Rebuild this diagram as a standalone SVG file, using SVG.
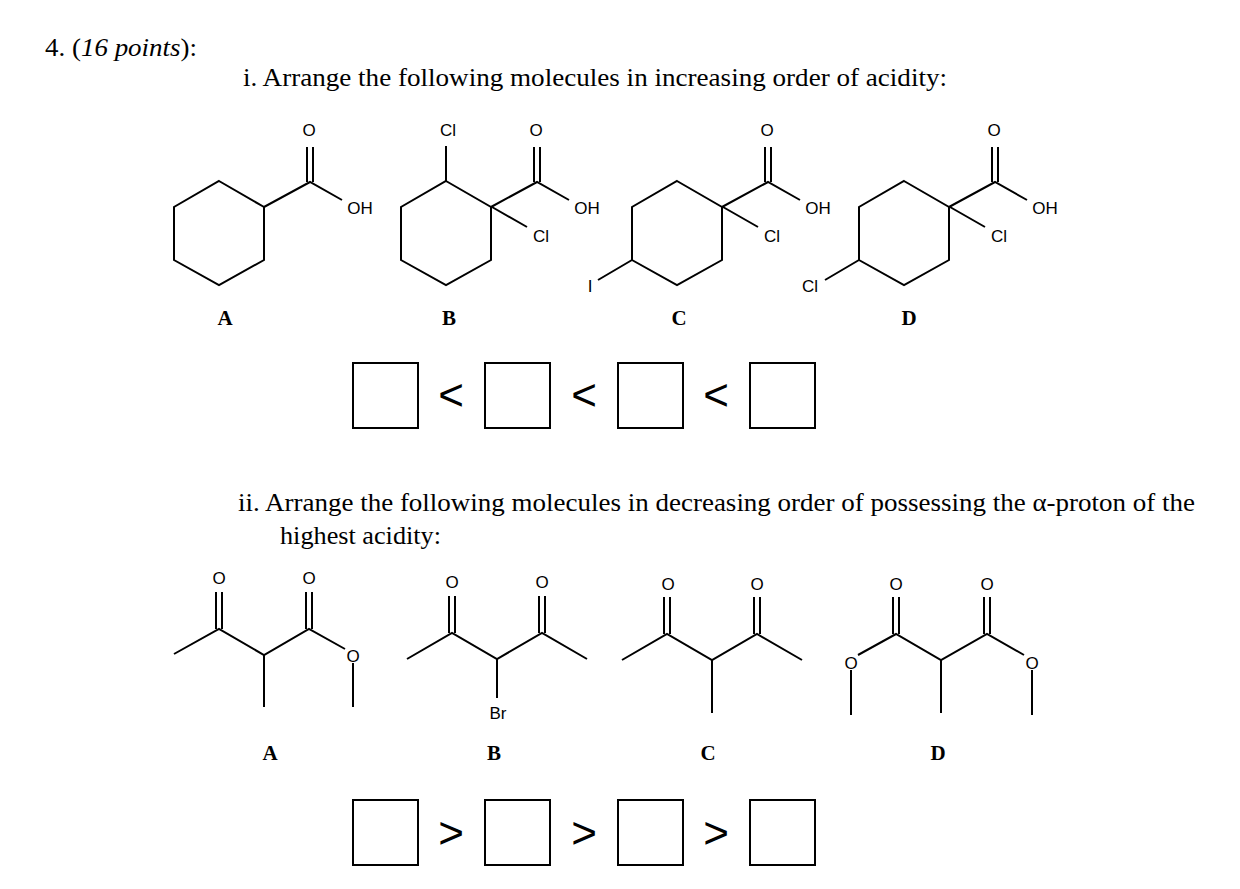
<svg xmlns="http://www.w3.org/2000/svg" width="1240" height="889" viewBox="0 0 1240 889">
<style>
.t{font-family:"Liberation Serif",serif;font-size:26px;fill:#000}
.lb{font-family:"Liberation Serif",serif;font-size:21px;font-weight:bold;fill:#000;text-anchor:middle}
.at{font-family:"Liberation Sans",sans-serif;font-size:17px;fill:#000;text-anchor:middle}
.b{stroke:#000;stroke-width:2;fill:none;stroke-linejoin:miter}
.box{stroke:#000;stroke-width:2;fill:#fff}
.op{font-family:"Liberation Sans",sans-serif;font-size:44px;fill:#000;text-anchor:middle}
</style>
<rect width="1240" height="889" fill="#fff"/>
<text class="t" x="45" y="56" textLength="152" lengthAdjust="spacingAndGlyphs">4. (<tspan font-style="italic">16 points</tspan>):</text>
<text class="t" x="243" y="86" textLength="704" lengthAdjust="spacingAndGlyphs">i.  Arrange the following molecules in increasing order of acidity:</text>
<text class="t" x="238" y="511" textLength="957" lengthAdjust="spacingAndGlyphs">ii.  Arrange the following molecules in decreasing order of possessing the α-proton of the</text>
<text class="t" x="280" y="544" textLength="161" lengthAdjust="spacingAndGlyphs">highest acidity:</text>

<defs>
<g id="acid">
<path class="b" d="M0,0 L45,26 L45,79 L0,104 L-45,79 L-45,26 Z"/>
<path class="b" d="M45,26 L91,1 L123,19"/>
<path class="b" d="M88,1 V-34 M94,1 V-34"/>
<text class="at" x="90" y="-45">O</text>
<text class="at" x="141" y="33">OH</text>
</g>
</defs>
<g id="mol-i-A"><use href="#acid" x="219" y="181"/><text class="lb" x="225" y="325">A</text></g>
<g id="mol-i-B"><use href="#acid" x="446" y="181"/>
<path class="b" d="M446,181 V146 M492,207 L527,227"/>
<text class="at" x="448" y="136">Cl</text><text class="at" x="541" y="242">Cl</text>
<text class="lb" x="449" y="325">B</text></g>
<g id="mol-i-C"><use href="#acid" x="677" y="181"/>
<path class="b" d="M723,207 L758,227 M632,260 L598,280"/>
<text class="at" x="772" y="242">Cl</text><text class="at" x="590" y="292">I</text>
<text class="lb" x="679" y="325">C</text></g>
<g id="mol-i-D"><use href="#acid" x="904" y="181"/>
<path class="b" d="M950,207 L985,227 M859,260 L825,280"/>
<text class="at" x="999" y="242">Cl</text><text class="at" x="810" y="292">Cl</text>
<text class="lb" x="909" y="325">D</text></g>

<g id="answer-i">
<rect class="box" x="353" y="363" width="65" height="65"/>
<rect class="box" x="485" y="363" width="65" height="65"/>
<rect class="box" x="618" y="363" width="65" height="65"/>
<rect class="box" x="750" y="363" width="65" height="65"/>
<text class="op" x="451" y="410">&lt;</text><text class="op" x="584" y="410">&lt;</text><text class="op" x="716" y="410">&lt;</text>
</g>

<g id="mol-ii-A">
<path class="b" d="M174,654 L219,629 L264,655 L309,629 L345,649 M264,655 V707 M353,663 V707"/>
<path class="b" d="M216,629 V592 M222,629 V592 M306,629 V592 M312,629 V592"/>
<text class="at" x="219" y="584">O</text><text class="at" x="309" y="584">O</text><text class="at" x="353" y="662">O</text>
<text class="lb" x="270" y="760">A</text></g>
<g id="mol-ii-B">
<path class="b" d="M407,659 L452,633 L497,659 L542,633 L587,659 M497,659 V698"/>
<path class="b" d="M449,633 V596 M455,633 V596 M539,633 V596 M545,633 V596"/>
<text class="at" x="452" y="588">O</text><text class="at" x="542" y="588">O</text><text class="at" x="498" y="719">Br</text>
<text class="lb" x="494" y="760">B</text></g>
<g id="mol-ii-C">
<path class="b" d="M622,660 L667,634 L712,660 L757,634 L802,660 M712,660 V713"/>
<path class="b" d="M664,634 V597 M670,634 V597 M754,634 V597 M760,634 V597"/>
<text class="at" x="668" y="590">O</text><text class="at" x="757" y="590">O</text>
<text class="lb" x="708" y="760">C</text></g>
<g id="mol-ii-D">
<path class="b" d="M858,655 L896,634 L941,660 L987,634 L1024,655 M941,660 V713 M851,670 V715 M1032,670 V715"/>
<path class="b" d="M893,634 V597 M899,634 V597 M984,634 V597 M990,634 V597"/>
<text class="at" x="896" y="590">O</text><text class="at" x="987" y="590">O</text>
<text class="at" x="851" y="669">O</text><text class="at" x="1032" y="669">O</text>
<text class="lb" x="938" y="760">D</text></g>

<g id="answer-ii">
<rect class="box" x="353" y="800" width="65" height="65"/>
<rect class="box" x="485" y="800" width="65" height="65"/>
<rect class="box" x="618" y="800" width="65" height="65"/>
<rect class="box" x="750" y="800" width="65" height="65"/>
<text class="op" x="451" y="848">&gt;</text><text class="op" x="584" y="848">&gt;</text><text class="op" x="716" y="848">&gt;</text>
</g>
</svg>
